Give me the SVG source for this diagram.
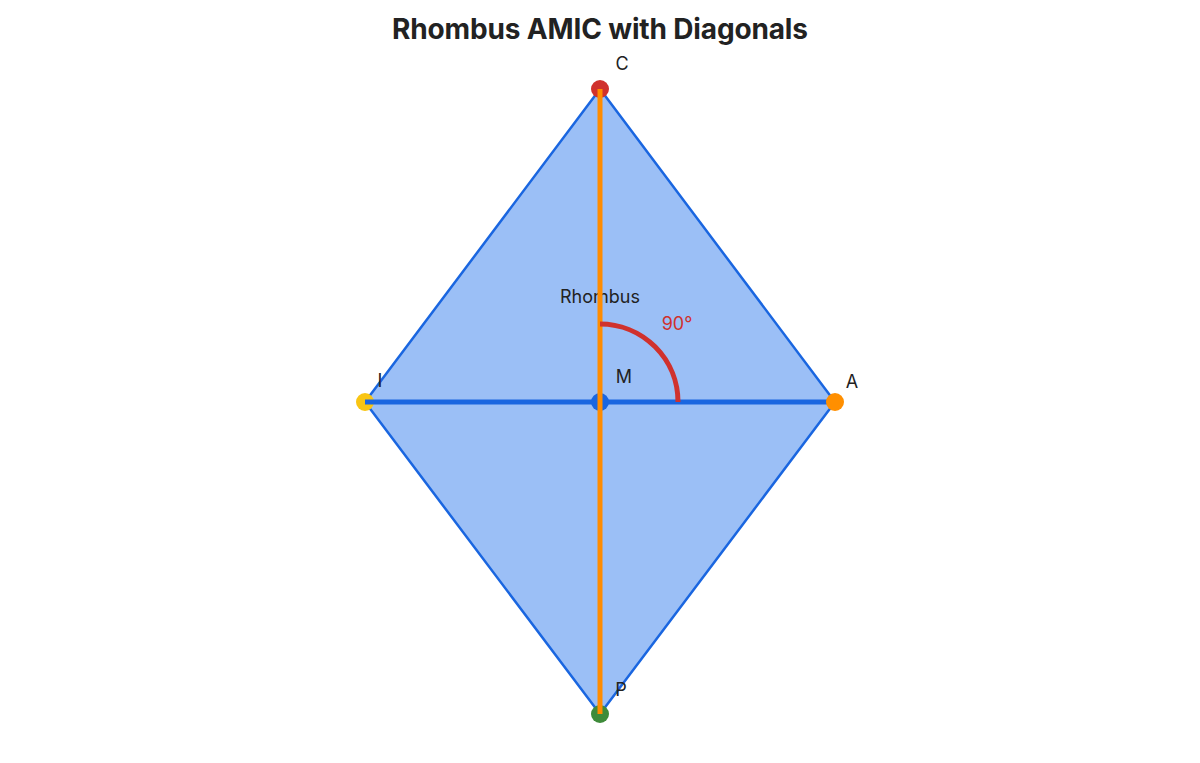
<svg xmlns="http://www.w3.org/2000/svg" width="1200" height="763" viewBox="0 0 1200 763">
<style>
.lbl{font-family:Inter,"Noto Sans",sans-serif;font-size:18px;fill:#222}
.title{font-family:Inter,"Noto Sans",sans-serif;font-size:28px;font-weight:bold;fill:#222}
</style>
<rect width="1200" height="763" fill="#fff"/>
<text class="title" x="600" y="39" text-anchor="middle" textLength="416">Rhombus AMIC with Diagonals</text>
<g id="rhombus">
<polygon points="600,89 835,402 600,714 365,402" fill="#9bbff6" stroke="#1a66e0" stroke-width="2.5" stroke-linejoin="round"/>
<text class="lbl" x="600" y="303" text-anchor="middle">Rhombus</text>
</g>
<g id="C"><circle cx="600" cy="89" r="9" fill="#d0312d"/><text class="lbl" x="622" y="70" text-anchor="middle">C</text></g>
<g id="I"><circle cx="365" cy="402" r="9" fill="#f9c513"/><text class="lbl" x="380" y="387" text-anchor="middle">I</text></g>
<g id="P"><circle cx="600" cy="714" r="9" fill="#3e8b3a"/><text class="lbl" x="621" y="696" text-anchor="middle">P</text></g>
<g id="M"><circle cx="600" cy="402" r="9" fill="#1a66e0"/><text class="lbl" x="624" y="383" text-anchor="middle">M</text></g>
<g id="connectors">
<line x1="365" y1="402" x2="835" y2="402" stroke="#1a66e0" stroke-width="5"/>
<line x1="600" y1="89" x2="600" y2="714" stroke="#ff8c00" stroke-width="5"/>
<path d="M600,324 A78,78 0 0 1 678,402" fill="none" stroke="#d0312d" stroke-width="5"/>
<text x="677" y="330" text-anchor="middle" style="font-family:Inter,'Noto Sans',sans-serif;font-size:18px;fill:#d0312d">90°</text>
</g>
<g id="A"><circle cx="835" cy="402" r="9" fill="#ff8f00"/><text class="lbl" x="852" y="388" text-anchor="middle">A</text></g>
</svg>
